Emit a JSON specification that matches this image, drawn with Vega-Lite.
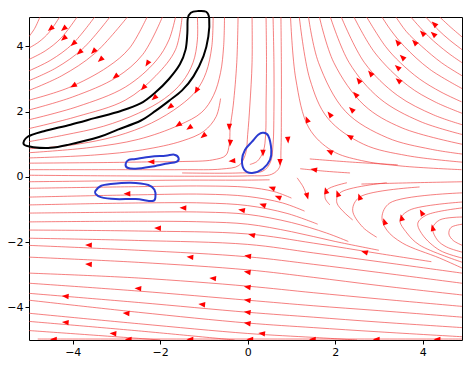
{
"$schema":"https://vega.github.io/schema/vega-lite/v6.json",
"width":433,"height":323,
"autosize":{"type":"none"},
"padding":{"left":29,"top":17,"right":12,"bottom":28},
"background":"white",
"config":{"view":{"stroke":"#000","strokeWidth":1},
"axis":{"grid":false,"domain":false,"tickColor":"#000","tickSize":4,"labelFont":"DejaVu Sans","labelFontSize":11,"labelColor":"#000","title":null,"labelPadding":2}},
"datasets":{
"streams":[
{"s":"A1","i":0,"x":-5,"y":4.3},{"s":"A1","i":1,"x":-4.87,"y":4.55},{"s":"A1","i":2,"x":-4.75,"y":4.9},
{"s":"A2","i":0,"x":-5,"y":3.95},{"s":"A2","i":1,"x":-4.77,"y":4.14},{"s":"A2","i":2,"x":-4.54,"y":4.43},{"s":"A2","i":3,"x":-4.3,"y":4.9},
{"s":"A3","i":0,"x":-5,"y":3.6},{"s":"A3","i":1,"x":-4.63,"y":3.86},{"s":"A3","i":2,"x":-4.27,"y":4.25},{"s":"A3","i":3,"x":-3.9,"y":4.9},
{"s":"A4","i":0,"x":-5,"y":3.25},{"s":"A4","i":1,"x":-4.5,"y":3.58},{"s":"A4","i":2,"x":-4.0,"y":4.08},{"s":"A4","i":3,"x":-3.5,"y":4.9},
{"s":"A5","i":0,"x":-5,"y":2.95},{"s":"A5","i":1,"x":-4.38,"y":3.34},{"s":"A5","i":2,"x":-3.77,"y":3.93},{"s":"A5","i":3,"x":-3.15,"y":4.9},
{"s":"A6","i":0,"x":-5,"y":2.65},{"s":"A6","i":1,"x":-4.25,"y":3.1},{"s":"A6","i":2,"x":-3.5,"y":3.78},{"s":"A6","i":3,"x":-2.75,"y":4.9},
{"s":"A7","i":0,"x":-5,"y":2.35},{"s":"A7","i":1,"x":-4.1,"y":2.73},{"s":"A7","i":2,"x":-3.2,"y":3.37},{"s":"A7","i":3,"x":-2.7,"y":3.95},{"s":"A7","i":4,"x":-2.3,"y":4.9},
{"s":"A8","i":0,"x":-5,"y":2.05},{"s":"A8","i":1,"x":-4.0,"y":2.45},{"s":"A8","i":2,"x":-3.0,"y":3.05},{"s":"A8","i":3,"x":-2.4,"y":3.75},{"s":"A8","i":4,"x":-1.95,"y":4.9},
{"s":"A9","i":0,"x":-5,"y":1.75},{"s":"A9","i":1,"x":-3.9,"y":2.15},{"s":"A9","i":2,"x":-2.8,"y":2.75},{"s":"A9","i":3,"x":-2.1,"y":3.55},{"s":"A9","i":4,"x":-1.8,"y":4.2},{"s":"A9","i":5,"x":-1.65,"y":4.9},
{"s":"A10","i":0,"x":-5,"y":1.48},{"s":"A10","i":1,"x":-3.9,"y":1.85},{"s":"A10","i":2,"x":-2.8,"y":2.35},{"s":"A10","i":3,"x":-2.1,"y":3.1},{"s":"A10","i":4,"x":-1.65,"y":3.9},{"s":"A10","i":5,"x":-1.5,"y":4.9},
{"s":"B0","i":0,"x":-1.15,"y":4.9},{"s":"B0","i":1,"x":-1.15,"y":4.2},{"s":"B0","i":2,"x":-1.25,"y":3.5},{"s":"B0","i":3,"x":-1.5,"y":2.9},{"s":"B0","i":4,"x":-1.9,"y":2.4},{"s":"B0","i":5,"x":-2.5,"y":1.95},{"s":"B0","i":6,"x":-3.3,"y":1.55},{"s":"B0","i":7,"x":-4.2,"y":1.28},{"s":"B0","i":8,"x":-5,"y":1.08},
{"s":"C1","i":0,"x":-0.79,"y":4.9},{"s":"C1","i":1,"x":-0.82,"y":4.0},{"s":"C1","i":2,"x":-0.95,"y":3.2},{"s":"C1","i":3,"x":-1.17,"y":2.65},{"s":"C1","i":4,"x":-1.55,"y":2.18},{"s":"C1","i":5,"x":-2.2,"y":1.65},{"s":"C1","i":6,"x":-3.0,"y":1.25},{"s":"C1","i":7,"x":-4.0,"y":0.98},{"s":"C1","i":8,"x":-5,"y":0.86},
{"s":"C2","i":0,"x":-0.53,"y":4.9},{"s":"C2","i":1,"x":-0.55,"y":4.0},{"s":"C2","i":2,"x":-0.62,"y":3.2},{"s":"C2","i":3,"x":-0.78,"y":2.5},{"s":"C2","i":4,"x":-1.05,"y":1.98},{"s":"C2","i":5,"x":-1.58,"y":1.58},{"s":"C2","i":6,"x":-2.5,"y":1.15},{"s":"C2","i":7,"x":-3.6,"y":0.9},{"s":"C2","i":8,"x":-5,"y":0.74},
{"s":"C2b","i":0,"x":-0.62,"y":2.4},{"s":"C2b","i":1,"x":-0.72,"y":1.85},{"s":"C2b","i":2,"x":-1.0,"y":1.4},{"s":"C2b","i":3,"x":-1.5,"y":1.1},{"s":"C2b","i":4,"x":-2.4,"y":0.83},{"s":"C2b","i":5,"x":-3.5,"y":0.67},{"s":"C2b","i":6,"x":-5,"y":0.58},
{"s":"C3","i":0,"x":-0.22,"y":4.9},{"s":"C3","i":1,"x":-0.25,"y":3.5},{"s":"C3","i":2,"x":-0.33,"y":2.2},{"s":"C3","i":3,"x":-0.4,"y":1.5},{"s":"C3","i":4,"x":-0.42,"y":1.0},{"s":"C3","i":5,"x":-0.5,"y":0.66},{"s":"C3","i":6,"x":-0.8,"y":0.52},{"s":"C3","i":7,"x":-1.5,"y":0.47},{"s":"C3","i":8,"x":-2.2,"y":0.46},{"s":"C3","i":9,"x":-3.2,"y":0.44},{"s":"C3","i":10,"x":-5,"y":0.42},
{"s":"C4","i":0,"x":0.1,"y":4.9},{"s":"C4","i":1,"x":0.1,"y":3.5},{"s":"C4","i":2,"x":0.05,"y":2.2},{"s":"C4","i":3,"x":0.0,"y":1.3},{"s":"C4","i":4,"x":-0.05,"y":0.7},{"s":"C4","i":5,"x":-0.2,"y":0.35},{"s":"C4","i":6,"x":-0.6,"y":0.24},{"s":"C4","i":7,"x":-1.5,"y":0.22},{"s":"C4","i":8,"x":-3,"y":0.22},{"s":"C4","i":9,"x":-5,"y":0.22},
{"s":"C5","i":0,"x":0.42,"y":4.9},{"s":"C5","i":1,"x":0.43,"y":3.5},{"s":"C5","i":2,"x":0.42,"y":2.2},{"s":"C5","i":3,"x":0.41,"y":1.3},{"s":"C5","i":4,"x":0.36,"y":0.8},{"s":"C5","i":5,"x":0.22,"y":0.48},{"s":"C5","i":6,"x":0.05,"y":0.38},
{"s":"C5b","i":0,"x":0.58,"y":4.9},{"s":"C5b","i":1,"x":0.6,"y":3.5},{"s":"C5b","i":2,"x":0.6,"y":2.0},{"s":"C5b","i":3,"x":0.58,"y":1.0},{"s":"C5b","i":4,"x":0.52,"y":0.45},{"s":"C5b","i":5,"x":0.35,"y":0.18},{"s":"C5b","i":6,"x":-0.2,"y":0.12},{"s":"C5b","i":7,"x":-1.5,"y":0.12},
{"s":"C6","i":0,"x":0.76,"y":4.9},{"s":"C6","i":1,"x":0.77,"y":3.5},{"s":"C6","i":2,"x":0.77,"y":2.0},{"s":"C6","i":3,"x":0.76,"y":0.8},{"s":"C6","i":4,"x":0.73,"y":0.3},{"s":"C6","i":5,"x":0.55,"y":0.08},{"s":"C6","i":6,"x":0.0,"y":0.03},{"s":"C6","i":7,"x":-1.0,"y":0.02},{"s":"C6","i":8,"x":-3,"y":0.03},{"s":"C6","i":9,"x":-5,"y":0.05},
{"s":"D1","i":0,"x":4.39,"y":4.9},{"s":"D1","i":1,"x":4.63,"y":4.6},{"s":"D1","i":2,"x":4.9,"y":4.29},
{"s":"D2","i":0,"x":4.07,"y":4.9},{"s":"D2","i":1,"x":4.36,"y":4.5},{"s":"D2","i":2,"x":4.61,"y":4.2},{"s":"D2","i":3,"x":4.9,"y":3.9},
{"s":"D3","i":0,"x":3.73,"y":4.9},{"s":"D3","i":1,"x":4.14,"y":4.3},{"s":"D3","i":2,"x":4.58,"y":3.8},{"s":"D3","i":3,"x":4.9,"y":3.5},
{"s":"D4","i":0,"x":3.39,"y":4.9},{"s":"D4","i":1,"x":3.63,"y":4.45},{"s":"D4","i":2,"x":3.98,"y":4.0},{"s":"D4","i":3,"x":4.43,"y":3.5},{"s":"D4","i":4,"x":4.9,"y":3.1},
{"s":"D5","i":0,"x":3.07,"y":4.9},{"s":"D5","i":1,"x":3.27,"y":4.5},{"s":"D5","i":2,"x":3.58,"y":4.0},{"s":"D5","i":3,"x":4.16,"y":3.3},{"s":"D5","i":4,"x":4.91,"y":2.7},
{"s":"D6","i":0,"x":2.72,"y":4.9},{"s":"D6","i":1,"x":3.15,"y":4.0},{"s":"D6","i":2,"x":3.49,"y":3.5},{"s":"D6","i":3,"x":3.93,"y":3.0},{"s":"D6","i":4,"x":4.42,"y":2.6},{"s":"D6","i":5,"x":4.89,"y":2.3},
{"s":"D7","i":0,"x":2.43,"y":4.9},{"s":"D7","i":1,"x":2.91,"y":3.8},{"s":"D7","i":2,"x":3.66,"y":2.8},{"s":"D7","i":3,"x":4.28,"y":2.3},{"s":"D7","i":4,"x":4.9,"y":1.95},
{"s":"D8","i":0,"x":2.14,"y":4.9},{"s":"D8","i":1,"x":2.67,"y":3.5},{"s":"D8","i":2,"x":3.42,"y":2.5},{"s":"D8","i":3,"x":4.25,"y":1.9},{"s":"D8","i":4,"x":4.9,"y":1.6},
{"s":"D9","i":0,"x":1.89,"y":4.9},{"s":"D9","i":1,"x":2.32,"y":3.5},{"s":"D9","i":2,"x":3.02,"y":2.4},{"s":"D9","i":3,"x":3.94,"y":1.7},{"s":"D9","i":4,"x":4.9,"y":1.3},
{"s":"D10","i":0,"x":1.64,"y":4.9},{"s":"D10","i":1,"x":1.97,"y":3.5},{"s":"D10","i":2,"x":2.66,"y":2.2},{"s":"D10","i":3,"x":3.53,"y":1.5},{"s":"D10","i":4,"x":4.9,"y":1.0},
{"s":"D11","i":0,"x":1.39,"y":4.9},{"s":"D11","i":1,"x":1.62,"y":3.5},{"s":"D11","i":2,"x":2.24,"y":2.0},{"s":"D11","i":3,"x":3.19,"y":1.2},{"s":"D11","i":4,"x":4.18,"y":0.85},{"s":"D11","i":5,"x":4.9,"y":0.7},
{"s":"D12","i":0,"x":1.18,"y":4.9},{"s":"D12","i":1,"x":1.42,"y":3.0},{"s":"D12","i":2,"x":1.83,"y":1.8},{"s":"D12","i":3,"x":2.65,"y":1.0},{"s":"D12","i":4,"x":3.65,"y":0.65},{"s":"D12","i":5,"x":4.91,"y":0.45},
{"s":"D13","i":0,"x":0.98,"y":4.9},{"s":"D13","i":1,"x":1.1,"y":3.0},{"s":"D13","i":2,"x":1.4,"y":1.5},{"s":"D13","i":3,"x":1.93,"y":0.8},{"s":"D13","i":4,"x":2.6,"y":0.5},{"s":"D13","i":5,"x":3.53,"y":0.33},{"s":"D13","i":6,"x":4.89,"y":0.22},
{"s":"E0","i":0,"x":1.13,"y":-0.03},{"s":"E0","i":1,"x":1.27,"y":-0.31},{"s":"E0","i":2,"x":1.36,"y":-0.62},
{"s":"E1","i":0,"x":2.27,"y":-0.18},{"s":"E1","i":1,"x":1.81,"y":-0.4},{"s":"E1","i":2,"x":1.77,"y":-0.65},{"s":"E1","i":3,"x":1.88,"y":-0.86},
{"s":"E2","i":0,"x":3.18,"y":-0.18},{"s":"E2","i":1,"x":2.11,"y":-0.49},{"s":"E2","i":2,"x":2.04,"y":-0.8},{"s":"E2","i":3,"x":2.4,"y":-1.32},
{"s":"E3","i":0,"x":3.93,"y":-0.31},{"s":"E3","i":1,"x":2.56,"y":-0.62},{"s":"E3","i":2,"x":2.4,"y":-1.02},{"s":"E3","i":3,"x":2.63,"y":-1.54},{"s":"E3","i":4,"x":2.95,"y":-1.85},
{"s":"E4","i":0,"x":4.91,"y":-0.49},{"s":"E4","i":1,"x":3.25,"y":-0.8},{"s":"E4","i":2,"x":3.07,"y":-1.23},{"s":"E4","i":3,"x":3.18,"y":-1.63},{"s":"E4","i":4,"x":3.54,"y":-2.03},{"s":"E4","i":5,"x":4.39,"y":-2.49},{"s":"E4","i":6,"x":4.91,"y":-2.8},
{"s":"E5","i":0,"x":4.91,"y":-0.77},{"s":"E5","i":1,"x":3.7,"y":-1.02},{"s":"E5","i":2,"x":3.48,"y":-1.32},{"s":"E5","i":3,"x":3.64,"y":-1.72},{"s":"E5","i":4,"x":3.93,"y":-2.09},{"s":"E5","i":5,"x":4.91,"y":-2.62},
{"s":"E6","i":0,"x":4.91,"y":-0.95},{"s":"E6","i":1,"x":4.09,"y":-1.17},{"s":"E6","i":2,"x":3.89,"y":-1.42},{"s":"E6","i":3,"x":4.0,"y":-1.78},{"s":"E6","i":4,"x":4.39,"y":-2.25},{"s":"E6","i":5,"x":4.91,"y":-2.49},
{"s":"E7","i":0,"x":4.91,"y":-1.23},{"s":"E7","i":1,"x":4.39,"y":-1.32},{"s":"E7","i":2,"x":4.23,"y":-1.57},{"s":"E7","i":3,"x":4.34,"y":-1.94},{"s":"E7","i":4,"x":4.55,"y":-2.15},{"s":"E7","i":5,"x":4.91,"y":-2.31},
{"s":"E8","i":0,"x":4.91,"y":-1.45},{"s":"E8","i":1,"x":4.65,"y":-1.55},{"s":"E8","i":2,"x":4.6,"y":-1.75},{"s":"E8","i":3,"x":4.7,"y":-1.95},{"s":"E8","i":4,"x":4.91,"y":-2.1},
{"s":"F0","i":0,"x":2.6,"y":-0.22},{"s":"F0","i":1,"x":3.8,"y":-0.18},{"s":"F0","i":2,"x":4.9,"y":-0.15},
{"s":"F1","i":0,"x":1.42,"y":0.55},{"s":"F1","i":1,"x":2.4,"y":0.45},{"s":"F1","i":2,"x":3.43,"y":0.37},
{"s":"F2","i":0,"x":1.2,"y":0.25},{"s":"F2","i":1,"x":1.8,"y":0.17},{"s":"F2","i":2,"x":2.34,"y":0.12},
{"s":"G0","i":0,"x":-5,"y":-0.15},{"s":"G0","i":1,"x":-3,"y":-0.12},{"s":"G0","i":2,"x":-1.5,"y":-0.1},{"s":"G0","i":3,"x":0,"y":-0.1},{"s":"G0","i":4,"x":0.5,"y":-0.09},
{"s":"H1","i":0,"x":-5,"y":-0.35},{"s":"H1","i":1,"x":-2.5,"y":-0.3},{"s":"H1","i":2,"x":-1,"y":-0.28},{"s":"H1","i":3,"x":0,"y":-0.32},{"s":"H1","i":4,"x":0.6,"y":-0.45},{"s":"H1","i":5,"x":1.0,"y":-0.65},
{"s":"H2","i":0,"x":-5,"y":-0.62},{"s":"H2","i":1,"x":-2.5,"y":-0.55},{"s":"H2","i":2,"x":-1,"y":-0.53},{"s":"H2","i":3,"x":0,"y":-0.6},{"s":"H2","i":4,"x":0.8,"y":-0.8},{"s":"H2","i":5,"x":1.3,"y":-1.05},
{"s":"H3","i":0,"x":-5,"y":-0.86},{"s":"H3","i":1,"x":-2.5,"y":-0.8},{"s":"H3","i":2,"x":-1,"y":-0.8},{"s":"H3","i":3,"x":0,"y":-0.88},{"s":"H3","i":4,"x":0.9,"y":-1.12},{"s":"H3","i":5,"x":1.6,"y":-1.45},
{"s":"H4","i":0,"x":-5,"y":-1.11},{"s":"H4","i":1,"x":-2.5,"y":-1.08},{"s":"H4","i":2,"x":-1,"y":-1.08},{"s":"H4","i":3,"x":0,"y":-1.15},{"s":"H4","i":4,"x":1,"y":-1.4},{"s":"H4","i":5,"x":1.8,"y":-1.72},{"s":"H4","i":6,"x":2.3,"y":-1.98},
{"s":"H5","i":0,"x":-5,"y":-1.38},{"s":"H5","i":1,"x":-2.5,"y":-1.36},{"s":"H5","i":2,"x":-1,"y":-1.38},{"s":"H5","i":3,"x":0,"y":-1.45},{"s":"H5","i":4,"x":1,"y":-1.68},{"s":"H5","i":5,"x":2,"y":-1.98},{"s":"H5","i":6,"x":3,"y":-2.25},
{"s":"H6","i":0,"x":-5,"y":-1.63},{"s":"H6","i":1,"x":-2.5,"y":-1.66},{"s":"H6","i":2,"x":0,"y":-1.75},{"s":"H6","i":3,"x":1.5,"y":-2.03},{"s":"H6","i":4,"x":3,"y":-2.35},{"s":"H6","i":5,"x":4.2,"y":-2.6},
{"s":"H7","i":0,"x":-5,"y":-1.88},{"s":"H7","i":1,"x":-2.5,"y":-1.95},{"s":"H7","i":2,"x":0,"y":-2.07},{"s":"H7","i":3,"x":1.5,"y":-2.33},{"s":"H7","i":4,"x":3,"y":-2.6},{"s":"H7","i":5,"x":4.9,"y":-2.95},
{"s":"H8","i":0,"x":-5,"y":-2.1},{"s":"H8","i":1,"x":-2.5,"y":-2.25},{"s":"H8","i":2,"x":0,"y":-2.45},{"s":"H8","i":3,"x":1.5,"y":-2.68},{"s":"H8","i":4,"x":3,"y":-2.93},{"s":"H8","i":5,"x":4.9,"y":-3.26},
{"s":"H9","i":0,"x":-5,"y":-2.46},{"s":"H9","i":1,"x":-2.5,"y":-2.62},{"s":"H9","i":2,"x":0,"y":-2.85},{"s":"H9","i":3,"x":1.5,"y":-3.08},{"s":"H9","i":4,"x":3,"y":-3.33},{"s":"H9","i":5,"x":4.9,"y":-3.62},
{"s":"H10","i":0,"x":-5,"y":-2.95},{"s":"H10","i":1,"x":-2.5,"y":-3.1},{"s":"H10","i":2,"x":0,"y":-3.35},{"s":"H10","i":3,"x":1.5,"y":-3.55},{"s":"H10","i":4,"x":3,"y":-3.74},{"s":"H10","i":5,"x":4.9,"y":-3.97},
{"s":"H11","i":0,"x":-5,"y":-3.26},{"s":"H11","i":1,"x":-2.5,"y":-3.5},{"s":"H11","i":2,"x":0,"y":-3.78},{"s":"H11","i":3,"x":1.5,"y":-3.95},{"s":"H11","i":4,"x":3,"y":-4.1},{"s":"H11","i":5,"x":4.9,"y":-4.3},
{"s":"H12","i":0,"x":-5,"y":-3.57},{"s":"H12","i":1,"x":-2.5,"y":-3.85},{"s":"H12","i":2,"x":0,"y":-4.15},{"s":"H12","i":3,"x":1.5,"y":-4.3},{"s":"H12","i":4,"x":3,"y":-4.45},{"s":"H12","i":5,"x":4.9,"y":-4.62},
{"s":"H13","i":0,"x":-5,"y":-3.78},{"s":"H13","i":1,"x":-2.5,"y":-4.15},{"s":"H13","i":2,"x":0,"y":-4.48},{"s":"H13","i":3,"x":1.5,"y":-4.62},{"s":"H13","i":4,"x":3,"y":-4.75},{"s":"H13","i":5,"x":4.9,"y":-4.9},
{"s":"H14","i":0,"x":-5,"y":-4.18},{"s":"H14","i":1,"x":-2.5,"y":-4.5},{"s":"H14","i":2,"x":0,"y":-4.8},{"s":"H14","i":3,"x":1.5,"y":-4.92},{"s":"H14","i":4,"x":2.5,"y":-5.0},
{"s":"H15","i":0,"x":-5,"y":-4.43},{"s":"H15","i":1,"x":-2.5,"y":-4.72},{"s":"H15","i":2,"x":-0.3,"y":-5.0},
{"s":"H16","i":0,"x":-5,"y":-4.71},{"s":"H16","i":1,"x":-2.5,"y":-4.95},{"s":"H16","i":2,"x":-2,"y":-5.0},
{"s":"H17","i":0,"x":-4.8,"y":-4.97},{"s":"H17","i":1,"x":0,"y":-4.97},{"s":"H17","i":2,"x":4.9,"y":-4.97}
],
"curves":[
{"c":"k","k":"black","i":0,"x":-5.12,"y":1.0},{"c":"k","k":"black","i":1,"x":-5.03,"y":1.23},{"c":"k","k":"black","i":2,"x":-4.66,"y":1.4},{"c":"k","k":"black","i":3,"x":-4.05,"y":1.6},{"c":"k","k":"black","i":4,"x":-3.5,"y":1.8},{"c":"k","k":"black","i":5,"x":-2.9,"y":2.02},{"c":"k","k":"black","i":6,"x":-2.45,"y":2.25},{"c":"k","k":"black","i":7,"x":-2.1,"y":2.6},{"c":"k","k":"black","i":8,"x":-1.8,"y":3.0},{"c":"k","k":"black","i":9,"x":-1.55,"y":3.45},{"c":"k","k":"black","i":10,"x":-1.42,"y":3.9},{"c":"k","k":"black","i":11,"x":-1.38,"y":4.4},{"c":"k","k":"black","i":12,"x":-1.37,"y":4.85},{"c":"k","k":"black","i":13,"x":-1.3,"y":5.03},{"c":"k","k":"black","i":14,"x":-1.15,"y":5.08},{"c":"k","k":"black","i":15,"x":-0.95,"y":5.06},{"c":"k","k":"black","i":16,"x":-0.88,"y":4.85},{"c":"k","k":"black","i":17,"x":-0.9,"y":4.3},{"c":"k","k":"black","i":18,"x":-1.01,"y":3.7},{"c":"k","k":"black","i":19,"x":-1.24,"y":3.08},{"c":"k","k":"black","i":20,"x":-1.5,"y":2.65},{"c":"k","k":"black","i":21,"x":-1.8,"y":2.33},{"c":"k","k":"black","i":22,"x":-2.1,"y":2.03},{"c":"k","k":"black","i":23,"x":-2.45,"y":1.72},{"c":"k","k":"black","i":24,"x":-2.97,"y":1.45},{"c":"k","k":"black","i":25,"x":-3.4,"y":1.22},{"c":"k","k":"black","i":26,"x":-4.11,"y":0.98},{"c":"k","k":"black","i":27,"x":-4.5,"y":0.89},{"c":"k","k":"black","i":28,"x":-4.9,"y":0.91},
{"c":"b1","k":"blue","i":0,"x":-2.79,"y":0.4},{"c":"b1","k":"blue","i":1,"x":-2.72,"y":0.52},{"c":"b1","k":"blue","i":2,"x":-2.56,"y":0.55},{"c":"b1","k":"blue","i":3,"x":-2.22,"y":0.62},{"c":"b1","k":"blue","i":4,"x":-1.88,"y":0.65},{"c":"b1","k":"blue","i":5,"x":-1.68,"y":0.68},{"c":"b1","k":"blue","i":6,"x":-1.58,"y":0.58},{"c":"b1","k":"blue","i":7,"x":-1.63,"y":0.46},{"c":"b1","k":"blue","i":8,"x":-1.88,"y":0.4},{"c":"b1","k":"blue","i":9,"x":-2.22,"y":0.31},{"c":"b1","k":"blue","i":10,"x":-2.56,"y":0.25},{"c":"b1","k":"blue","i":11,"x":-2.75,"y":0.28},
{"c":"b2","k":"blue","i":0,"x":-3.48,"y":-0.43},{"c":"b2","k":"blue","i":1,"x":-3.36,"y":-0.28},{"c":"b2","k":"blue","i":2,"x":-3.13,"y":-0.22},{"c":"b2","k":"blue","i":3,"x":-2.68,"y":-0.18},{"c":"b2","k":"blue","i":4,"x":-2.27,"y":-0.25},{"c":"b2","k":"blue","i":5,"x":-2.13,"y":-0.4},{"c":"b2","k":"blue","i":6,"x":-2.11,"y":-0.62},{"c":"b2","k":"blue","i":7,"x":-2.18,"y":-0.74},{"c":"b2","k":"blue","i":8,"x":-2.56,"y":-0.68},{"c":"b2","k":"blue","i":9,"x":-3.02,"y":-0.68},{"c":"b2","k":"blue","i":10,"x":-3.36,"y":-0.62},{"c":"b2","k":"blue","i":11,"x":-3.48,"y":-0.52},
{"c":"b3","k":"blue","i":0,"x":0.35,"y":1.35},{"c":"b3","k":"blue","i":1,"x":0.47,"y":1.26},{"c":"b3","k":"blue","i":2,"x":0.54,"y":0.83},{"c":"b3","k":"blue","i":3,"x":0.51,"y":0.52},{"c":"b3","k":"blue","i":4,"x":0.35,"y":0.25},{"c":"b3","k":"blue","i":5,"x":0.1,"y":0.12},{"c":"b3","k":"blue","i":6,"x":-0.08,"y":0.22},{"c":"b3","k":"blue","i":7,"x":-0.13,"y":0.52},{"c":"b3","k":"blue","i":8,"x":-0.06,"y":0.83},{"c":"b3","k":"blue","i":9,"x":0.1,"y":1.08},{"c":"b3","k":"blue","i":10,"x":0.24,"y":1.29}
],
"arrows":[
{"x":-4.5,"y":4.55,"a":230},{"x":-4.2,"y":4.55,"a":230},{"x":-4.2,"y":4.25,"a":230},{"x":-3.98,"y":4.09,"a":228},{"x":-3.84,"y":3.82,"a":228},{"x":-3.52,"y":3.85,"a":225},{"x":-3.36,"y":3.6,"a":228},{"x":-3.02,"y":3.08,"a":232},{"x":-2.29,"y":3.48,"a":212},{"x":-3.98,"y":2.8,"a":240},{"x":-2.38,"y":2.74,"a":222},{"x":-2.13,"y":2.43,"a":228},{"x":-1.77,"y":2.15,"a":232},{"x":-1.17,"y":2.65,"a":210},{"x":-1.58,"y":1.6,"a":238},{"x":-1.33,"y":1.51,"a":235},{"x":-1.01,"y":1.26,"a":232},{"x":-0.42,"y":1.54,"a":182},{"x":-0.4,"y":1.05,"a":185},{"x":-0.35,"y":0.49,"a":265},
{"x":4.27,"y":4.68,"a":315},{"x":4.0,"y":4.4,"a":315},{"x":4.25,"y":4.37,"a":312},{"x":3.43,"y":4.12,"a":322},{"x":3.82,"y":4.12,"a":316},{"x":3.54,"y":3.66,"a":314},{"x":3.43,"y":3.35,"a":312},{"x":2.81,"y":3.17,"a":320},{"x":2.54,"y":2.95,"a":322},{"x":3.45,"y":2.95,"a":310},{"x":2.47,"y":2.52,"a":318},{"x":2.38,"y":2.06,"a":314},{"x":1.88,"y":1.91,"a":322},{"x":1.36,"y":1.75,"a":337},{"x":2.34,"y":1.23,"a":300},{"x":1.88,"y":0.77,"a":295},{"x":1.52,"y":0.22,"a":280},
{"x":0.35,"y":0.74,"a":180},{"x":0.74,"y":0.46,"a":180},{"x":0.92,"y":1.14,"a":175},
{"x":-2.2,"y":0.46,"a":270},{"x":-2.75,"y":-0.52,"a":270},
{"x":1.36,"y":-0.58,"a":165},{"x":0.56,"y":-0.34,"a":290},{"x":0.7,"y":-0.62,"a":292},{"x":0.35,"y":-0.86,"a":288},{"x":-0.13,"y":-1.02,"a":280},{"x":-1.47,"y":-0.95,"a":272},{"x":-2.05,"y":-1.57,"a":272},{"x":0.1,"y":-1.78,"a":282},{"x":-3.63,"y":-2.09,"a":272},{"x":-3.63,"y":-2.68,"a":273},{"x":-2.5,"y":-3.42,"a":274},{"x":-4.16,"y":-3.66,"a":274},{"x":-2.77,"y":-4.18,"a":274},{"x":-4.16,"y":-4.46,"a":274},{"x":-3.07,"y":-4.8,"a":274},{"x":-4.43,"y":-4.98,"a":270},{"x":-2.72,"y":-4.98,"a":270},{"x":-1.31,"y":-2.46,"a":275},{"x":0.01,"y":-2.43,"a":278},{"x":-0.79,"y":-3.11,"a":276},{"x":0,"y":-2.92,"a":278},{"x":0,"y":-3.38,"a":278},{"x":-1.04,"y":-3.91,"a":276},{"x":0,"y":-3.78,"a":278},{"x":0,"y":-4.15,"a":278},{"x":0,"y":-4.49,"a":278},{"x":0.33,"y":-4.8,"a":277},{"x":-1.31,"y":-4.98,"a":270},{"x":0.06,"y":-4.98,"a":270},{"x":2.68,"y":-2.31,"a":285},{"x":1.49,"y":-4.98,"a":270},{"x":2.95,"y":-4.98,"a":270},{"x":4.34,"y":-4.98,"a":270},
{"x":1.79,"y":-0.43,"a":345},{"x":2.06,"y":-0.52,"a":340},{"x":2.56,"y":-0.62,"a":340},{"x":3.13,"y":-1.38,"a":340},{"x":3.52,"y":-1.26,"a":345},{"x":3.98,"y":-1.1,"a":330},{"x":4.23,"y":-1.57,"a":345}
]
},
"encoding":{
"x":{"field":"x","type":"quantitative","scale":{"domain":[-5,4.9],"nice":false,"zero":false},"axis":{"orient":"bottom","values":[-4,-2,0,2,4]}},
"y":{"field":"y","type":"quantitative","scale":{"domain":[-5,4.9],"nice":false,"zero":false},"axis":{"orient":"left","values":[-4,-2,0,2,4]}}
},
"layer":[
{"data":{"name":"streams"},"mark":{"type":"line","interpolate":"catmull-rom","stroke":"#f03a3a","strokeWidth":0.9,"opacity":0.72,"clip":true},
 "encoding":{"detail":{"field":"s"},"order":{"field":"i","type":"quantitative"}}},
{"data":{"name":"curves"},"mark":{"type":"line","interpolate":"cardinal-closed","strokeWidth":2,"clip":false},
 "encoding":{"detail":{"field":"c"},"order":{"field":"i","type":"quantitative"},
 "color":{"field":"k","type":"nominal","scale":{"domain":["black","blue"],"range":["#000000","#2b3bd0"]},"legend":null}}},
{"data":{"name":"arrows"},"mark":{"type":"point","shape":"M0,-1L0.7,0.75L-0.7,0.75Z","filled":true,"color":"#ff0000","opacity":1,"size":60,"clip":true},
 "encoding":{"angle":{"field":"a","type":"quantitative","scale":null}}}
]
}
